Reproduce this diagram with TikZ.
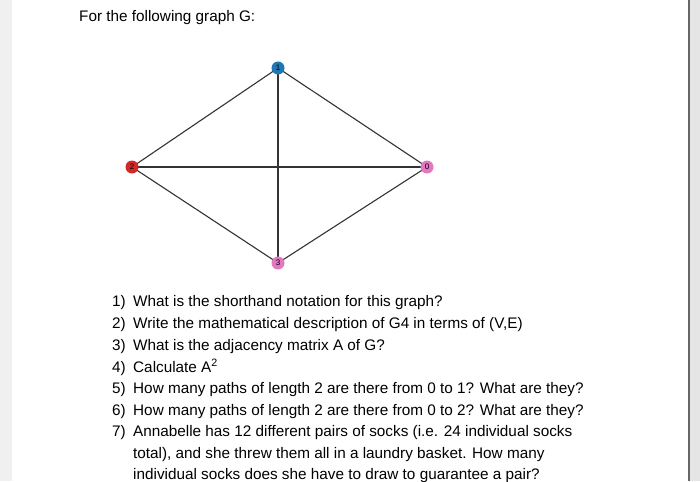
\documentclass[tikz,border=0pt]{standalone}
\usepackage{fontspec}
\setmainfont{Liberation Sans}
\usetikzlibrary{backgrounds}
\begin{document}
\begin{tikzpicture}[x=1pt,y=-1pt,
  vert/.style={circle,inner sep=0pt,minimum size=13pt,font=\fontsize{8}{8}\selectfont},
  edge/.style={draw=black!80,line width=1.1pt},
  txt/.style={anchor=base west,inner sep=0pt,font=\fontsize{15.3}{17}\selectfont}]
\useasboundingbox (0,0) rectangle (700,481);
\node[txt] (title) at (79,22) {For the following graph G:};
\node[vert,fill={rgb,255:red,31;green,119;blue,180}] (n1) at (278,68) {1};
\node[vert,fill={rgb,255:red,214;green,39;blue,40}] (n2) at (132,167) {2};
\node[vert,fill={rgb,255:red,227;green,119;blue,194}] (n0) at (427,167) {0};
\node[vert,fill={rgb,255:red,227;green,119;blue,194}] (n3) at (278,263) {3};
\begin{scope}[on background layer]
\fill[black!6] (0,0) rectangle (12,481);
\fill[black!10] (688,0) rectangle (700,481);
\draw[black!60,line width=2pt] (689,0) -- (689,481);
\draw[edge] (n1.center) -- (n2.center);
\draw[edge] (n1.center) -- (n0.center);
\draw[edge] (n1.center) -- (n3.center);
\draw[edge] (n2.center) -- (n0.center);
\draw[edge] (n2.center) -- (n3.center);
\draw[edge] (n0.center) -- (n3.center);
\end{scope}
\foreach \y/\n/\t [count=\i] in {
 306/1)/{What is the shorthand notation for this graph?},
 328/2)/{Write the mathematical description of G4  in terms of (V,E)},
 350/3)/{What is the adjacency matrix A of G?},
 372/4)/{Calculate A\textsuperscript{2}},
 393/5)/{How many paths of length 2 are there from 0 to 1? What are they?},
 415/6)/{How many paths of length 2 are there from 0 to 2? What are they?},
 436/7)/{Annabelle has 12 different pairs of socks (i.e. 24 individual socks}} {
  \node[txt] (num\i) at (112,\y) {\n};
  \node[txt] (item\i) at (133,\y) {\t};
}
\node[txt] (cont1) at (133,458) {total), and she threw them all in a laundry basket. How many};
\node[txt] (cont2) at (133,479) {individual socks does she have to draw to guarantee a pair?};
\end{tikzpicture}
\end{document}
